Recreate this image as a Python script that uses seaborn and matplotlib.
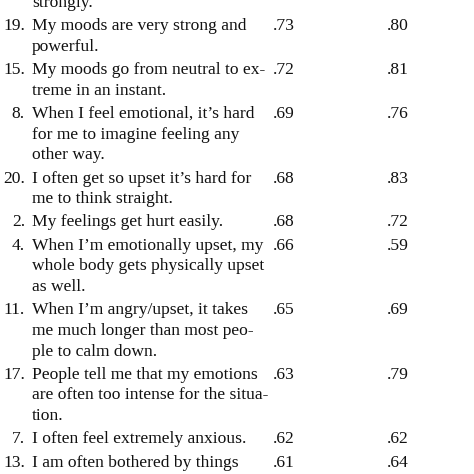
import matplotlib
matplotlib.use("Agg")
import matplotlib.pyplot as plt
import seaborn as sb

# table rows: item number, wrapped item text, loading column 1, loading column 2
items = ["", "19.", "15.", "8.", "20.", "2.", "4.", "11.", "17.", "7.", "13."]
texts = [
    ["strongly."],
    ["My moods are very strong and", "powerful."],
    ["My moods go from neutral to ex-", "treme in an instant."],
    ["When I feel emotional, it\u2019s hard", "for me to imagine feeling any", "other way."],
    ["I often get so upset it\u2019s hard for", "me to think straight."],
    ["My feelings get hurt easily."],
    ["When I\u2019m emotionally upset, my", "whole body gets physically upset", "as well."],
    ["When I\u2019m angry/upset, it takes", "me much longer than most peo-", "ple to calm down."],
    ["People tell me that my emotions", "are often too intense for the situa-", "tion."],
    ["I often feel extremely anxious."],
    ["I am often bothered by things"],
]
col1 = ["", ".73", ".72", ".69", ".68", ".68", ".66", ".65", ".63", ".62", ".61"]
col2 = ["", ".80", ".81", ".76", ".83", ".72", ".59", ".69", ".79", ".62", ".64"]

sb.set_style("white")
plt.rcParams["font.family"] = ["Liberation Serif", "DejaVu Serif"]

fig = plt.figure(figsize=(4.74, 4.74), dpi=100)
ax = fig.add_axes([0, 0, 1, 1])
ax.set_xlim(0, 474)
ax.set_ylim(474, 0)
ax.axis("off")

fs = 12.6
lh = 20.6
y = 3
for num, lines, a, b in zip(items, texts, col1, col2):
    ax.text(25, y, num, ha="right", va="center", fontsize=fs, color="#111111")
    ax.text(295, y, a, ha="right", va="center", fontsize=fs, color="#111111")
    ax.text(409, y, b, ha="right", va="center", fontsize=fs, color="#111111")
    for ln in lines:
        ax.text(32, y, ln, ha="left", va="center", fontsize=fs, color="#111111")
        y += lh
    y += 2.7

fig.savefig("out.png", dpi=100)
